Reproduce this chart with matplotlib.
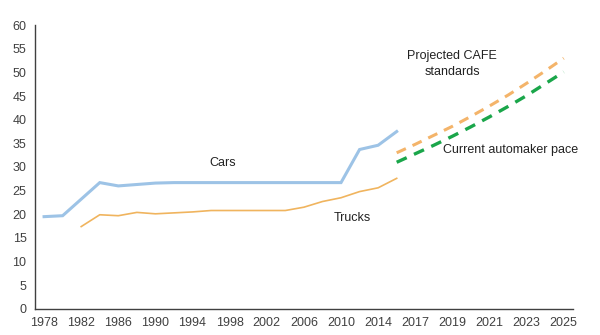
import numpy as np
import matplotlib
matplotlib.use('Agg')
import matplotlib.pyplot as plt

plt.rcParams['font.family'] = ['Liberation Sans', 'DejaVu Sans']

years = [str(y) for y in range(1978, 2015, 2)] + [str(y) for y in range(2016, 2026)]

nan = np.nan
cars = [19.5, 19.7, 23.2, 26.7, 26.0, 26.3, 26.6, 26.7, 26.7, 26.7,
        26.7, 26.7, 26.7, 26.7, 26.7, 26.7, 26.7, 33.7, 34.6, 37.5]
trucks = [nan, nan, 17.4, 19.9, 19.7, 20.4, 20.1, 20.3, 20.5, 20.8,
          20.8, 20.8, 20.8, 20.8, 21.5, 22.7, 23.5, 24.8, 25.6, 27.6]
projected = [33.0, 34.8, 36.7, 38.6, 40.7, 42.9, 45.2, 47.7, 50.3, 53.0]
current_pace = [31.0, 32.8, 34.6, 36.5, 38.5, 40.6, 42.8, 45.1, 47.6, 50.1]

x = np.arange(len(years))
x_hist = x[:len(cars)]
x_proj = x[len(cars) - 1:]

fig = plt.figure(figsize=(6, 3.35), dpi=100)
ax = fig.add_axes([0.058, 0.078, 0.897, 0.847])

ax.plot(x_hist, cars, color='#9DC3E6', lw=2.2, solid_joinstyle='miter')
ax.plot(x_hist, trucks, color='#F0B45E', lw=1.2)
ax.plot(x_proj, projected, color='#F4B46A', lw=2.2, dashes=(3.3, 2.4))
ax.plot(x_proj, current_pace, color='#1AA64A', lw=2.4, dashes=(3.3, 2.4))

ax.text(9.6, 30.8, 'Cars', fontsize=9, ha='center', va='center', color='#222222')
ax.text(16.6, 19.2, 'Trucks', fontsize=9, ha='center', va='center', color='#222222')
ax.text(22.0, 51.8, 'Projected CAFE\nstandards', fontsize=9, ha='center', va='center',
        color='#222222', linespacing=1.4)
ax.text(21.5, 33.6, 'Current automaker pace', fontsize=9, ha='left', va='center',
        color='#222222')

ax.set_xlim(-0.5, len(years) - 0.5)
ax.set_ylim(0, 60)
ax.set_yticks(range(0, 61, 5))
ax.set_xticks(x[::2])
ax.set_xticklabels(years[::2])
ax.tick_params(length=0, labelsize=9, labelcolor='#404040', pad=6)

for s in ['top', 'right']:
    ax.spines[s].set_visible(False)
for s in ['left', 'bottom']:
    ax.spines[s].set_color('#404040')
    ax.spines[s].set_linewidth(1.0)

plt.savefig('out.png', dpi=100)
